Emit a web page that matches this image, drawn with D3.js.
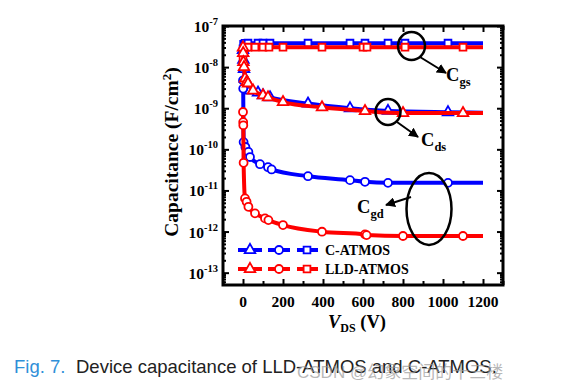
<!DOCTYPE html>
<html><head><meta charset="utf-8">
<script src="https://cdn.jsdelivr.net/npm/d3@7"></script>
<style>body{margin:0;background:#fff}svg{display:block}</style>
</head><body><svg id="c" width="572" height="391"></svg>
<script>
// ---- data (V_DS in volts, capacitance in F/cm^2) ----
const xTicks = [0,200,400,600,800,1000,1200];
const yTickExp = [-7,-8,-9,-10,-11,-12,-13];

const cgsC_V = [0,3,10,25,75,100,135,325,535,610,725,810,1025,1200];
const cgsC_C = [2.8e-8,3.6e-8,3.8e-8,3.83e-8,3.83e-8,3.83e-8,3.83e-8,3.83e-8,3.83e-8,3.83e-8,3.83e-8,3.83e-8,3.83e-8,3.83e-8];
const cgsL_V = [0,3,10,25,60,100,130,200,395,600,620,810,1100,1200];
const cgsL_C = [1.6e-8,2.6e-8,3.0e-8,3.06e-8,3.06e-8,3.06e-8,3.06e-8,3.06e-8,3.06e-8,3.06e-8,3.06e-8,3.06e-8,3.06e-8,3.06e-8];

const cdsC_V = [0,2,5,10,35,75,100,135,325,535,725,1025,1200];
const cdsC_C = [2.6e-8,1.5e-8,9e-9,5.3e-9,2.7e-9,2.4e-9,2.06e-9,1.84e-9,1.3e-9,1.0e-9,8.6e-10,8.0e-10,7.8e-10];
const cdsL_V = [0,1,2,5,10,18,25,50,100,125,200,395,610,800,1100,1200];
const cdsL_C = [3.0e-8,2.2e-8,1.32e-8,1.0e-8,5.3e-9,4.3e-9,4.0e-9,2.7e-9,2.06e-9,1.84e-9,1.41e-9,1.05e-9,8.55e-10,7.6e-10,7.6e-10,7.6e-10];

const cgdC_V = [0,1,3,12,27,35,85,125,143,325,535,610,725,1025,1200];
const cgdC_C = [4.75e-9,3.0e-9,1.5e-10,1.14e-10,8.65e-11,6.5e-11,4.35e-11,3.68e-11,3.24e-11,2.22e-11,1.78e-11,1.62e-11,1.53e-11,1.53e-11,1.53e-11];
const cgdL_V = [0,1,1.5,3,10,18,27,60,110,127,200,395,610,618,800,1100,1200];
const cgdL_C = [8.1e-10,4.6e-10,3.85e-10,4.7e-11,6.4e-12,5.3e-12,4.0e-12,2.77e-12,2.09e-12,1.9e-12,1.44e-12,9.9e-13,8.55e-13,8.2e-13,7.8e-13,7.8e-13,7.8e-13];

const legendLabels = ["C-ATMOS","LLD-ATMOS"];
const BLUE = "#0000ff", RED = "#ff0000";

// ---- scales ----
const svg = d3.select("#c");
const x = d3.scaleLinear().domain([-100,1300]).range([223,503]);
const y = d3.scaleLog().domain([Math.pow(10,-13.3),1e-7]).range([285,26]);
const X0=223,X1=503,Y0=285,Y1=26;
const serif = "'Liberation Serif','Times New Roman',serif";

// ---- ticks ----
const xMinor = d3.range(-100,1301,100).filter(v=>xTicks.indexOf(v)<0);
const yMajor = yTickExp.map(e=>Math.pow(10,e));
const yMinor = [];
for(let e=-14;e<-7;e++) for(let k=2;k<=9;k++){const v=k*Math.pow(10,e); if(v>y.domain()[0]&&v<1e-7) yMinor.push(v);}

function tickG(axis, tx, ty){
  const g = svg.append("g").attr("transform",`translate(${tx},${ty})`).call(axis);
  g.select(".domain").remove();
  g.selectAll("line").attr("stroke","#000").attr("stroke-width",2);
  g.selectAll("text").remove();
}
tickG(d3.axisBottom(x).tickValues(xTicks).tickSize(-6).tickFormat(""),0,Y0);
tickG(d3.axisBottom(x).tickValues(xMinor).tickSize(-4).tickFormat(""),0,Y0);
tickG(d3.axisTop(x).tickValues(xTicks).tickSize(-6).tickFormat(""),0,Y1);
tickG(d3.axisTop(x).tickValues(xMinor).tickSize(-4).tickFormat(""),0,Y1);
tickG(d3.axisLeft(y).tickValues(yMajor).tickSize(-6).tickFormat(""),X0,0);
tickG(d3.axisLeft(y).tickValues(yMinor).tickSize(-3).tickFormat(""),X0,0);
tickG(d3.axisRight(y).tickValues(yMajor).tickSize(-6).tickFormat(""),X1,0);
tickG(d3.axisRight(y).tickValues(yMinor).tickSize(-3).tickFormat(""),X1,0);

// tick labels
svg.append("g").selectAll("text").data(xTicks).join("text")
  .attr("x",d=>x(d)).attr("y",307).attr("text-anchor","middle")
  .attr("font-family",serif).attr("font-weight","bold").attr("font-size",15.5).text(d=>d);
const yl = svg.append("g").selectAll("text").data(yTickExp).join("text")
  .attr("x",218).attr("y",d=>y(Math.pow(10,d))+6).attr("text-anchor","end")
  .attr("font-family",serif).attr("font-weight","bold").attr("font-size",15.5);
yl.append("tspan").text("10");
yl.append("tspan").attr("dy",-7).attr("font-size",10.5).text(d=>"-"+(-d));

// axis titles
const xt = svg.append("text").attr("x",357).attr("y",328).attr("text-anchor","middle")
  .attr("font-family",serif).attr("font-weight","bold").attr("font-size",18.5);
xt.append("tspan").attr("font-style","italic").text("V");
xt.append("tspan").attr("dy",4).attr("font-size",12).text("DS");
xt.append("tspan").attr("dy",-4).text(" (V)");
const yt = svg.append("text").attr("transform","translate(178,152) rotate(-90)").attr("text-anchor","middle")
  .attr("font-family",serif).attr("font-weight","bold").attr("font-size",19.5);
yt.append("tspan").text("Capacitance (F/cm");
yt.append("tspan").attr("dy",-7).attr("font-size",13).text("2");
yt.append("tspan").attr("dy",7).text(")");

// ---- series ----
const line = d3.line().x(d=>x(d[0])).y(d=>y(d[1])).curve(d3.curveMonotoneX);
const sym = {tri:d3.symbolTriangle, cir:d3.symbolCircle, sq:d3.symbolSquare};
const symSize = {tri:48, cir:50, sq:46};
function series(V,C,color,shape){
  const pts = V.map((v,i)=>[v,C[i]]);
  const g = svg.append("g");
  g.append("path").attr("d",line(pts)).attr("fill","none").attr("stroke",color).attr("stroke-width",4).attr("stroke-linejoin","round");
  g.selectAll("path.m").data(pts.filter(p=>p[0]<1200)).join("path").attr("class","m")
    .attr("transform",p=>`translate(${x(p[0])},${y(p[1])})`)
    .attr("d",d3.symbol(sym[shape],symSize[shape]))
    .attr("fill","#fff").attr("stroke",color).attr("stroke-width",1.8);
}
series(cgsC_V,cgsC_C,BLUE,"sq");
series(cdsC_V,cdsC_C,BLUE,"tri");
series(cgdC_V,cgdC_C,BLUE,"cir");
series(cgsL_V,cgsL_C,RED,"sq");
series(cdsL_V,cdsL_C,RED,"tri");
series(cgdL_V,cgdL_C,RED,"cir");

// frame
svg.append("rect").attr("x",X0).attr("y",Y1).attr("width",X1-X0).attr("height",Y0-Y1)
  .attr("fill","none").attr("stroke","#000").attr("stroke-width",3);

// ---- legend ----
const legColors=[BLUE,RED], legY=[250,269];
legendLabels.forEach((lab,i)=>{
  const g=svg.append("g");
  [[238,262,"tri",250],[268,290,"cir",279],[297,318,"sq",307]].forEach(s=>{
    g.append("line").attr("x1",s[0]).attr("x2",s[1]).attr("y1",legY[i]).attr("y2",legY[i]).attr("stroke",legColors[i]).attr("stroke-width",4);
    g.append("path").attr("transform",`translate(${s[3]},${legY[i]})`).attr("d",d3.symbol(sym[s[2]],symSize[s[2]]))
      .attr("fill","#fff").attr("stroke",legColors[i]).attr("stroke-width",1.8);
  });
  g.append("text").attr("x",325).attr("y",legY[i]+5).attr("font-family",serif).attr("font-weight","bold").attr("font-size",14).text(lab);
});

// ---- annotations ----
svg.append("defs").append("marker").attr("id","ah").attr("viewBox","0 0 10 10").attr("refX",9).attr("refY",5)
  .attr("markerWidth",5).attr("markerHeight",5).attr("orient","auto")
  .append("path").attr("d","M0,0L10,5L0,10Z").attr("fill","#000");
function ell(cx,cy,rx,ry){svg.append("ellipse").attr("cx",cx).attr("cy",cy).attr("rx",rx).attr("ry",ry).attr("fill","none").attr("stroke","#000").attr("stroke-width",2.5);}
function arrow(x1,y1,x2,y2){svg.append("line").attr("x1",x1).attr("y1",y1).attr("x2",x2).attr("y2",y2).attr("stroke","#000").attr("stroke-width",2).attr("marker-end","url(#ah)");}
function clab(xp,yp,sub){const t=svg.append("text").attr("x",xp).attr("y",yp).attr("font-family",serif).attr("font-weight","bold").attr("font-size",18.5);
  t.append("tspan").text("C"); t.append("tspan").attr("dy",5).attr("font-size",12.5).text(sub);}
ell(411.5,46,13.5,14); arrow(420,57,446,73); clab(446,81,"gs");
ell(388,112,12.5,13); arrow(397,122,418,137); clab(421,146,"ds");
ell(429,209,22.5,36); arrow(411,197,386,205); clab(357,213,"gd");

// ---- caption ----
const cap = svg.append("text").attr("x",14).attr("y",373).attr("font-family","'Liberation Sans',Arial,sans-serif").attr("font-size",18.5);
cap.append("tspan").attr("fill","#2f8fd8").text("Fig. 7.");
cap.append("tspan").attr("x",76).attr("fill","#222").text("Device capacitance of LLD-ATMOS and C-ATMOS.");
svg.append("text").attr("x",297).attr("y",378).attr("font-family","'Liberation Sans','Noto Sans CJK SC',sans-serif").attr("font-size",17)
  .attr("fill","#999").attr("fill-opacity",0.7).text("CSDN @幻象空间的十三楼");
</script></body></html>
